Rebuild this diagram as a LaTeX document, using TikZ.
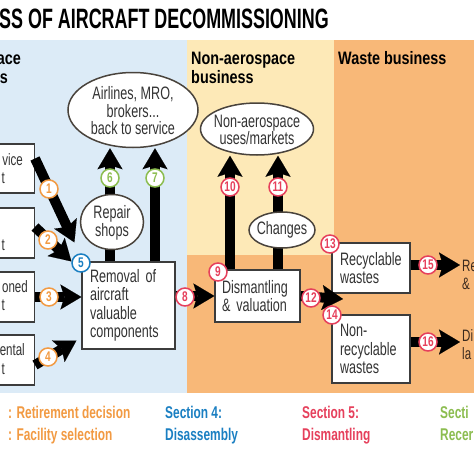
\documentclass[tikz,border=0pt]{standalone}
\usepackage{fontspec}
\newfontfamily\cond{Liberation Sans}[FakeStretch=0.7]
\newfontfamily\numf{Liberation Sans}[FakeStretch=0.72]
\newfontfamily\titlef{Liberation Sans}[FakeStretch=0.64]
\newfontfamily\headf{Liberation Sans}[FakeStretch=0.8]
\usetikzlibrary{arrows.meta,shapes.geometric,calc}
\definecolor{bgblue}{HTML}{DCEBF7}
\definecolor{bgcream}{HTML}{FDE9B7}
\definecolor{bgorange}{HTML}{F8B878}
\definecolor{cor}{HTML}{F29A42}
\definecolor{cbl}{HTML}{1A7FC2}
\definecolor{cgr}{HTML}{8CBD50}
\definecolor{crd}{HTML}{E6405C}
\definecolor{txt}{HTML}{333333}
\definecolor{edge}{HTML}{3C3C3C}
\definecolor{brn}{HTML}{3B2A1E}
\tikzset{
  x=1pt,y=-1pt,
  box/.style={draw=edge,line width=1.2pt,fill=white,rectangle,inner sep=0pt},
  mainbox/.style={box,align=left,text=txt,font=\fontsize{18}{18.5}\selectfont\cond,inner xsep=8pt},
  oval/.style={draw=edge!90!brown,line width=1.5pt,fill=white,ellipse,inner sep=0pt},
  ovaltext/.style={align=center,text=txt,font=\fontsize{18}{17.5}\selectfont\cond,inner sep=0pt},
  frag/.style={text=txt,font=\fontsize{16.5}{16.5}\selectfont\cond,inner sep=0pt,anchor=base east},
  bigarrow/.style={line width=10pt,black,-{Stealth[length=21pt,width=25pt,inset=4pt,line width=0.1pt]}},
  num/.style={circle,fill=white,draw=#1,line width=1.5pt,text=#1,inner sep=0pt,minimum size=18pt,font=\fontsize{14}{14}\selectfont\numf\bfseries},
  head/.style={text=black,font=\fontsize{18}{18}\selectfont\headf\bfseries,inner sep=0pt},
  leg/.style={font=\fontsize{17}{17}\selectfont\cond\bfseries,inner sep=0pt,anchor=base west},
}
\begin{document}
\begin{tikzpicture}
\useasboundingbox (0,0) rectangle (474,474);
\clip (0,0) rectangle (474,474);
\fill[white] (0,0) rectangle (474,474);
% backgrounds
\fill[bgblue] (0,40) rectangle (187,393);
\fill[bgcream] (187,40) rectangle (334,255);
\fill[bgorange] (334,40) rectangle (474,393);
\fill[bgorange] (187,255) rectangle (334,393);
% title and headers
\node[inner sep=0pt,anchor=base west,font=\fontsize{28}{28}\selectfont\titlef\bfseries] (title) at (-1,28) {SS OF AIRCRAFT DECOMMISSIONING};
\node[head,anchor=base east] (hA1) at (21,64) {ace};
\node[head,anchor=base east] (hA2) at (8,83) {s};
\node[head,anchor=base west] (hN1) at (191,64) {Non-aerospace};
\node[head,anchor=base west] (hN2) at (191,83) {business};
\node[head,anchor=base west] (hW) at (338,64) {Waste business};
% left boxes
\node[box,anchor=east,minimum width=60pt,minimum height=49pt] (b1) at (35,168.5) {};
\node[box,anchor=east,minimum width=60pt,minimum height=50pt] (b2) at (35,233) {};
\node[box,anchor=east,minimum width=60pt,minimum height=50pt] (b3) at (35,297) {};
\node[box,anchor=east,minimum width=60pt,minimum height=50pt] (b4) at (35,360) {};
\node[frag] (t1a) at (23,165) {vice};
\node[frag] (t1b) at (5,183) {t};
\node[frag] (t2) at (5,250) {t};
\node[frag] (t3a) at (28,292) {oned};
\node[frag] (t3b) at (5,310) {t};
\node[frag] (t4a) at (25,355) {ental};
\node[frag] (t4b) at (5,374) {t};
% main boxes
\node[mainbox,minimum width=93pt,minimum height=87pt,text width=77pt] (rem) at (128.5,305.5) {Removal of\\aircraft\\valuable\\components};
\node[mainbox,minimum width=85pt,minimum height=52pt,text width=71pt,inner xsep=7pt] (dism) at (257.5,296) {Dismantling\\\& valuation};
\node[mainbox,minimum width=78pt,minimum height=50pt,text width=62pt] (rec) at (371,268) {Recyclable\\wastes};
\node[mainbox,minimum width=78pt,minimum height=68pt,text width=62pt] (nrec) at (371,349) {Non-\\recyclable\\wastes};
% top ovals
\node[oval,minimum width=130pt,minimum height=75pt] (air) at (133,110) {};
\node[ovaltext] (airT) at (133,111) {Airlines, MRO,\\brokers...\\back to service};
\node[oval,minimum width=113pt,minimum height=52pt] (nae) at (257,129) {};
\node[ovaltext] (naeT) at (257,130) {Non-aerospace\\uses/markets};
% connector coordinates
\coordinate (x6) at (110,178);
\coordinate (x7) at (155,178);
\coordinate (x10) at (230,187);
\coordinate (x11) at (278,187);
\coordinate (split) at (343,299);
\coordinate (e15) at (460,265);
\coordinate (e16) at (460,342);
% arrows
\draw[bigarrow] (rem.north -| x6) -- (x6 |- air.south);
\draw[bigarrow] (rem.north -| x7) -- (x7 |- air.south);
\draw[bigarrow] (dism.north -| x10) -- (x10 |- nae.south);
\draw[bigarrow] (dism.north -| x11) -- (x11 |- nae.south);
\draw[bigarrow] ($(b1.east)+(0,-10)$) -- ($(rem.north west)+(-7,-19)$);
\draw[bigarrow] ($(b2.east)+(0,-6)$) -- ($(rem.north west)+(-10,0)$);
\draw[bigarrow] (b3.east) -- (rem.west |- b3.east);
\draw[bigarrow] ($(b4.east)+(0,5)$) -- ($(rem.south west)+(-5,-9)$);
\draw[bigarrow] (rem.east |- dism.west) -- (dism.west);
\draw[bigarrow] (dism.east) -- (split);
\draw[bigarrow] (rec.east |- e15) -- (e15);
\draw[bigarrow] (nrec.east |- e16) -- (e16);
% ovals on arrows
\node[oval,minimum width=63pt,minimum height=55pt] (rep) at (112,222) {};
\node[ovaltext] (repT) at (112,223) {Repair\\shops};
\node[oval,minimum width=66pt,minimum height=36pt] (chg) at (282,230) {};
\node[ovaltext] (chgT) at (282,230) {Changes};
% number circles
\node[num=cor] (c1) at (49,189) {1};
\node[num=cor] (c2) at (48,240) {2};
\node[num=cor] (c3) at (49,297) {3};
\node[num=cor] (c4) at (48,357) {4};
\node[num=cbl] (c5) at (81,263) {5};
\node[num=cgr] (c6) at (x6) {6};
\node[num=cgr] (c7) at (x7) {7};
\node[num=crd] (c8) at (185,297) {8};
\node[num=crd] (c9) at (218,272) {9};
\node[num=crd] (c10) at (x10) {10};
\node[num=crd] (c11) at (x11) {11};
\node[num=crd] (c12) at (311,298) {12};
\node[num=crd] (c13) at (330,244) {13};
\node[num=crd] (c14) at (332,315) {14};
\node[num=crd] (c15) at (428,265) {15};
\node[num=crd] (c16) at (428,342) {16};
% right fragments
\node[frag,text=brn,anchor=base west] (r1a) at (462,271) {Re};
\node[frag,text=brn,anchor=base west] (r1b) at (462,289) {\&};
\node[frag,text=brn,anchor=base west] (r2a) at (462,341) {Di};
\node[frag,text=brn,anchor=base west] (r2b) at (462,359) {la};
% legend
\node[leg,text=cor] (l1a) at (8,418) {: Retirement decision};
\node[leg,text=cor] (l1b) at (8,440) {: Facility selection};
\node[leg,text=cbl] (l4a) at (165,418) {Section 4:};
\node[leg,text=cbl] (l4b) at (165,440) {Disassembly};
\node[leg,text=crd] (l5a) at (302,418) {Section 5:};
\node[leg,text=crd] (l5b) at (302,440) {Dismantling};
\node[leg,text=cgr] (l6a) at (440,418) {Secti};
\node[leg,text=cgr] (l6b) at (440,440) {Recer};
\end{tikzpicture}
\end{document}
